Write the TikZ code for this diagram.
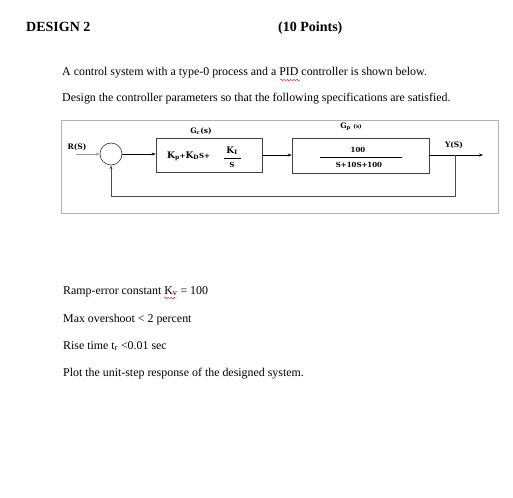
\documentclass[tikz,border=0pt]{standalone}
\usepackage{fontspec}
\setmainfont{Liberation Serif}
\newfontfamily\dgfont{DejaVu Serif}
\usetikzlibrary{arrows.meta,decorations.pathmorphing}
\begin{document}
\begin{tikzpicture}[x=1pt,y=-1pt,
  txt/.style={anchor=base west, inner sep=0pt, font=\fontsize{11.9}{13}\selectfont},
  head/.style={anchor=base west, inner sep=0pt, font=\bfseries\fontsize{14}{16}\selectfont},
  blk/.style={draw=black!75, line width=0.6pt, inner sep=0pt},
  lbl/.style={font=\dgfont\bfseries\fontsize{7}{8}\selectfont, inner sep=0pt},
  big/.style={font=\dgfont\bfseries\fontsize{9}{11}\selectfont, inner sep=0pt},
  sig/.style={line width=0.6pt, -{Stealth[length=4pt,width=3pt]}},
  wavy/.style={draw=red, decorate, decoration={snake,segment length=3.2pt, amplitude=0.7pt}, line width=0.4pt}]
\useasboundingbox (0,0) rectangle (513,497);
% header
\node[head] (t1) at (26,32) {DESIGN 2};
\node[head] (t2) at (278,32) {(10 Points)};
\node[txt] (l1) at (62,76) {A control system with a type-0 process and a PID controller is shown below.};
\node[txt] (l2) at (62,102) {Design the controller parameters so that the following specifications are satisfied.};
\coordinate (w1a) at (280,80); \coordinate (w1b) at (300,80);
\draw[wavy] (w1a) -- (w1b);
% frame
\draw[draw=black!30, line width=0.6pt] (61,120) rectangle (498,213);
% blocks
\node[circle, draw=black!80, line width=0.6pt, minimum size=22pt, inner sep=0pt] (sum) at (111,154) {};
\node[blk, minimum width=106pt, minimum height=34pt] (gc) at (209,155) {};
\node[blk, minimum width=137pt, minimum height=35pt] (gp) at (360.5,155.5) {};
% block contents
\node[lbl, font=\dgfont\bfseries\fontsize{7.5}{8}\selectfont] (gcl) at (201,131) {G\textsubscript{c}(s)};
\node[lbl, font=\dgfont\bfseries\fontsize{7.5}{8}\selectfont] (gpl) at (351,127) {G\textsubscript{p} {\fontsize{5.5}{6}\selectfont (s)}};
\node[big, anchor=west] (kp) at (167,156) {K\textsubscript{p}{\fontsize{7}{8}\selectfont +}K\textsubscript{D}{\fontsize{7}{8}\selectfont S+}};
\node[big] (ki) at (232,151) {K\textsubscript{I}};
\node[lbl] (ks) at (232,165) {S};
\draw[line width=0.5pt] (224,158) -- (241,158);
\node[lbl] (num) at (358,150) {100};
\node[lbl] (den) at (359,165) {S+10S+100};
\draw[line width=0.5pt] (320,157.5) -- (402,157.5);
% labels
\node[lbl, font=\dgfont\bfseries\fontsize{7.5}{8}\selectfont] (rl) at (77,147) {R(S)};
\node[lbl, font=\dgfont\bfseries\fontsize{7.5}{8}\selectfont] (yl) at (454,145) {Y(S)};
% connectors
\coordinate (rin) at (76,154);
\coordinate (yout) at (483,155);
\coordinate (br) at (455,155);
\coordinate (fb) at (455,196);
\draw[sig, draw=black!40] (rin) -- (sum.west);
\draw[sig] (sum.east) -- (sum.east -| gc.west);
\draw[sig] (gc.east) -- (gc.east -| gp.west);
\draw[sig] (gp.east |- yout) -- (yout);
\draw[sig, draw=black!70] (br) -- (fb) -| (sum.south);
% specs
\node[txt] (s1) at (63,294) {Ramp-error constant K\textsubscript{v} = 100};
\coordinate (w2a) at (164,298); \coordinate (w2b) at (177,298);
\draw[wavy] (w2a) -- (w2b);
\node[txt] (s2) at (63,322) {Max overshoot < 2 percent};
\node[txt] (s3) at (63,349) {Rise time t\textsubscript{r} <0.01 sec};
\node[txt] (s4) at (63,376) {Plot the unit-step response of the designed system.};
\end{tikzpicture}
\end{document}
